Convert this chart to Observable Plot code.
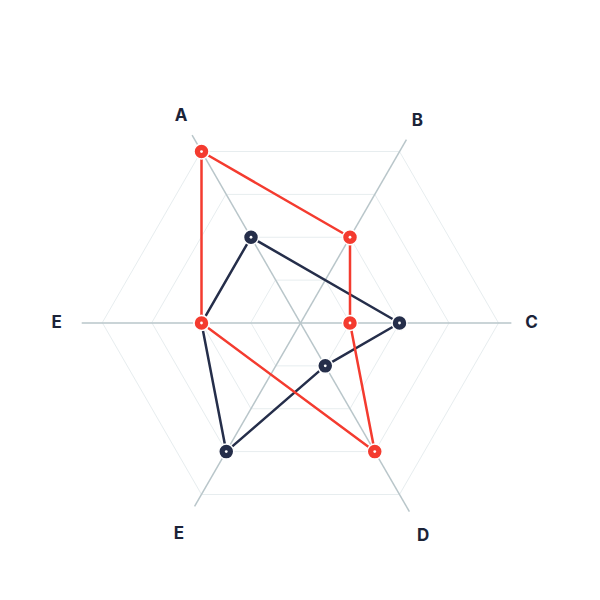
<!DOCTYPE html>
<html>
<head>
<meta charset="utf-8">
<script src="https://cdn.jsdelivr.net/npm/d3@7"></script>
<script src="https://cdn.jsdelivr.net/npm/@observablehq/plot@0.6"></script>
<style>
  html, body { margin: 0; padding: 0; background: #fff; }
</style>
</head>
<body>
<div id="chart"></div>
<script>
const axisLabels = ["A", "B", "C", "D", "E", "E"];
const seriesRed = [1, 0.5, 0.25, 0.75, null, 0.5];
const seriesNavy = [0.5, null, 0.5, 0.25, 0.75, 0.5];
const ringLevels = [0.25, 0.5, 0.75, 1];
const axisExtents = [1.095, 1.07, 1.065, 1.1, 1.07, 1.105];
const labelRadii = [1.207, 1.18, 1.167, 1.238, 1.227, 1.232];

const RED = "#f43b2f";
const NAVY = "#252e4a";

const angleOf = i => (120 - 60 * i) * Math.PI / 180;
const polar = (i, r) => ({x: r * Math.cos(angleOf(i)), y: r * Math.sin(angleOf(i))});

const rings = ringLevels.flatMap(level =>
  axisLabels.map((_, i) => ({level, ...polar(i, level)})));

const spokes = axisLabels.map((label, i) => {
  const p = polar(i, axisExtents[i]);
  return {x1: 0, y1: 0, x2: p.x, y2: p.y};
});

const labels = axisLabels.map((label, i) => ({label, ...polar(i, labelRadii[i])}));

function seriesPoints(values, name) {
  return values
    .map((v, i) => v == null ? null : {series: name, axis: axisLabels[i], value: v, ...polar(i, v)})
    .filter(d => d);
}
const redPts = seriesPoints(seriesRed, "Series 1");
const navyPts = seriesPoints(seriesNavy, "Series 2");

const k = 198;
const chart = Plot.plot({
  width: 600,
  height: 600,
  margin: 0,
  x: {domain: [-300 / k, 300 / k], axis: null},
  y: {domain: [-277.5 / k, 322.5 / k], axis: null},
  style: {fontFamily: "Inter, 'DejaVu Sans', sans-serif"},
  marks: [
    Plot.line(rings, {x: "x", y: "y", z: "level", curve: "linear-closed", stroke: "#e7edef", strokeWidth: 1}),
    Plot.link(spokes, {x1: "x1", y1: "y1", x2: "x2", y2: "y2", stroke: "#b9c6ca", strokeWidth: 1.5}),
    Plot.line(navyPts, {x: "x", y: "y", curve: "linear-closed", stroke: NAVY, strokeWidth: 2.5}),
    Plot.line(redPts, {x: "x", y: "y", curve: "linear-closed", stroke: RED, strokeWidth: 2.5}),
    Plot.dot(navyPts, {x: "x", y: "y", r: 7.5, fill: NAVY, stroke: "white", strokeWidth: 1.5}),
    Plot.dot(navyPts, {x: "x", y: "y", r: 1.4, fill: "white"}),
    Plot.dot(redPts, {x: "x", y: "y", r: 7.5, fill: RED, stroke: "white", strokeWidth: 1.5}),
    Plot.dot(redPts, {x: "x", y: "y", r: 1.4, fill: "white"}),
    Plot.text(labels, {x: "x", y: "y", text: "label", fontSize: 17, fontWeight: 700, fill: "#1b2338"})
  ]
});
document.getElementById("chart").appendChild(chart);
</script>
</body>
</html>
